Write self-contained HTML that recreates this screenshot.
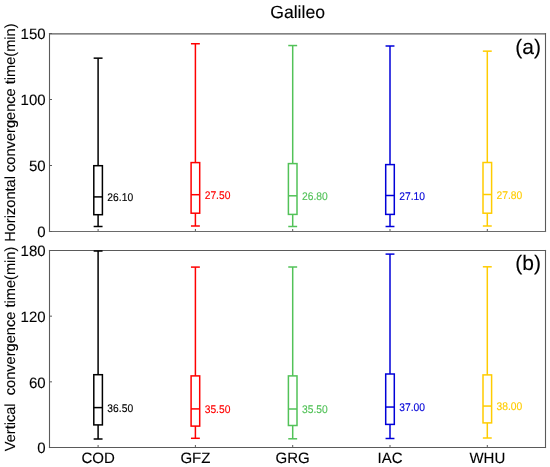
<!DOCTYPE html>
<html><head><meta charset="utf-8"><title>Galileo</title>
<style>html,body{margin:0;padding:0;background:#fff;width:550px;height:467px;overflow:hidden}svg{display:block}text{stroke:#000;stroke-width:0.12px;stroke-linejoin:round}</style>
</head><body>
<svg width="550" height="467" viewBox="0 0 550 467" font-family="'Liberation Sans', Arial, Helvetica, sans-serif" text-rendering="geometricPrecision">
<rect width="550" height="467" fill="#fff"/>
<text x="297.6" y="17.6" text-anchor="middle" font-size="17.6">Galileo</text>
<g stroke="#5a5a5a" stroke-width="1.1" fill="none">
<line x1="49.5" y1="33.15" x2="49.5" y2="232.05"/>
<line x1="545.5" y1="33.15" x2="545.5" y2="232.05"/>
<line x1="48.95" y1="231.5" x2="546.05" y2="231.5" stroke="#6a6a6a"/>
<line x1="48.95" y1="33.85" x2="546.05" y2="33.85" stroke-width="1.4"/>
</g>
<text x="45.6" y="237" text-anchor="end" font-size="15">0</text>
<line x1="49.5" y1="231.50" x2="52" y2="231.50" stroke="#5a5a5a" stroke-width="1"/>
<text x="45.6" y="171" text-anchor="end" font-size="15">50</text>
<line x1="49.5" y1="165.50" x2="52" y2="165.50" stroke="#5a5a5a" stroke-width="1"/>
<text x="45.6" y="105" text-anchor="end" font-size="15">100</text>
<line x1="49.5" y1="99.50" x2="52" y2="99.50" stroke="#5a5a5a" stroke-width="1"/>
<text x="45.6" y="39" text-anchor="end" font-size="15">150</text>
<line x1="49.5" y1="33.50" x2="52" y2="33.50" stroke="#5a5a5a" stroke-width="1"/>
<text x="541" y="53.7" text-anchor="end" font-size="21">(a)</text>
<text transform="translate(14.5,132.6) rotate(-90)" text-anchor="middle" font-size="14.62">Horizontal convergence time(min)</text>
<g stroke="#000000" stroke-width="1.5" fill="none">
<line x1="98.1" y1="58.15" x2="98.1" y2="165.7"/>
<line x1="98.1" y1="214.7" x2="98.1" y2="226.5"/>
<line x1="93.65" y1="58.15" x2="102.55" y2="58.15"/>
<line x1="93.65" y1="226.5" x2="102.55" y2="226.5"/>
<rect x="93.80" y="165.7" width="8.60" height="49.00"/>
<line x1="93.80" y1="196.9" x2="102.40" y2="196.9"/>
</g>
<text transform="translate(107.35,201.00) scale(1,1.08)" fill="#000000" style="stroke:#000000" font-size="10.3">26.10</text>
<g stroke="#ff0000" stroke-width="1.5" fill="none">
<line x1="195.4" y1="43.75" x2="195.4" y2="162.6"/>
<line x1="195.4" y1="213.2" x2="195.4" y2="226.0"/>
<line x1="190.95" y1="43.75" x2="199.85" y2="43.75"/>
<line x1="190.95" y1="226.0" x2="199.85" y2="226.0"/>
<rect x="191.10" y="162.6" width="8.60" height="50.60"/>
<line x1="191.10" y1="194.7" x2="199.70" y2="194.7"/>
</g>
<text transform="translate(204.65,199.00) scale(1,1.08)" fill="#ff0000" style="stroke:#ff0000" font-size="10.3">27.50</text>
<g stroke="#52c258" stroke-width="1.5" fill="none">
<line x1="292.7" y1="45.55" x2="292.7" y2="163.6"/>
<line x1="292.7" y1="214.4" x2="292.7" y2="226.5"/>
<line x1="288.25" y1="45.55" x2="297.15" y2="45.55"/>
<line x1="288.25" y1="226.5" x2="297.15" y2="226.5"/>
<rect x="288.40" y="163.6" width="8.60" height="50.80"/>
<line x1="288.40" y1="195.8" x2="297.00" y2="195.8"/>
</g>
<text transform="translate(301.95,200.00) scale(1,1.08)" fill="#52c258" style="stroke:#52c258" font-size="10.3">26.80</text>
<g stroke="#0000d8" stroke-width="1.5" fill="none">
<line x1="390.0" y1="46.0" x2="390.0" y2="164.6"/>
<line x1="390.0" y1="214.4" x2="390.0" y2="226.5"/>
<line x1="385.55" y1="46.0" x2="394.45" y2="46.0"/>
<line x1="385.55" y1="226.5" x2="394.45" y2="226.5"/>
<rect x="385.70" y="164.6" width="8.60" height="49.80"/>
<line x1="385.70" y1="195.5" x2="394.30" y2="195.5"/>
</g>
<text transform="translate(399.25,200.00) scale(1,1.08)" fill="#0000d8" style="stroke:#0000d8" font-size="10.3">27.10</text>
<g stroke="#ffcc00" stroke-width="1.5" fill="none">
<line x1="487.3" y1="51.15" x2="487.3" y2="162.5"/>
<line x1="487.3" y1="213.2" x2="487.3" y2="226.0"/>
<line x1="482.85" y1="51.15" x2="491.75" y2="51.15"/>
<line x1="482.85" y1="226.0" x2="491.75" y2="226.0"/>
<rect x="483.00" y="162.5" width="8.60" height="50.70"/>
<line x1="483.00" y1="194.5" x2="491.60" y2="194.5"/>
</g>
<text transform="translate(496.55,199.00) scale(1,1.08)" fill="#ffcc00" style="stroke:#ffcc00" font-size="10.3">27.80</text>
<g stroke="#5a5a5a" stroke-width="1.1" fill="none">
<line x1="49.5" y1="249.95" x2="49.5" y2="448.05"/>
<line x1="545.5" y1="249.95" x2="545.5" y2="448.05"/>
<line x1="48.95" y1="447.5" x2="546.05" y2="447.5" stroke="#5a5a5a"/>
<line x1="48.95" y1="250.5" x2="546.05" y2="250.5" stroke-width="1.1"/>
</g>
<text x="45.6" y="453" text-anchor="end" font-size="15">0</text>
<line x1="49.5" y1="447.50" x2="52" y2="447.50" stroke="#5a5a5a" stroke-width="1"/>
<text x="45.6" y="388" text-anchor="end" font-size="15">60</text>
<line x1="49.5" y1="381.83" x2="52" y2="381.83" stroke="#5a5a5a" stroke-width="1"/>
<text x="45.6" y="322" text-anchor="end" font-size="15">120</text>
<line x1="49.5" y1="316.17" x2="52" y2="316.17" stroke="#5a5a5a" stroke-width="1"/>
<text x="45.6" y="256" text-anchor="end" font-size="15">180</text>
<line x1="49.5" y1="250.50" x2="52" y2="250.50" stroke="#5a5a5a" stroke-width="1"/>
<text x="541" y="269.6" text-anchor="end" font-size="21">(b)</text>
<text transform="translate(14.7,349.0) rotate(-90)" text-anchor="middle" font-size="14.62" xml:space="preserve">Vertical  convergence time(min)</text>
<g stroke="#000000" stroke-width="1.5" fill="none">
<line x1="98.1" y1="251.0" x2="98.1" y2="374.7"/>
<line x1="98.1" y1="424.9" x2="98.1" y2="439.0"/>
<line x1="93.65" y1="251.0" x2="102.55" y2="251.0"/>
<line x1="93.65" y1="439.0" x2="102.55" y2="439.0"/>
<rect x="93.80" y="374.7" width="8.60" height="50.20"/>
<line x1="93.80" y1="407.6" x2="102.40" y2="407.6"/>
</g>
<text transform="translate(107.35,412.00) scale(1,1.08)" fill="#000000" style="stroke:#000000" font-size="10.3">36.50</text>
<g stroke="#ff0000" stroke-width="1.5" fill="none">
<line x1="195.4" y1="267.1" x2="195.4" y2="375.9"/>
<line x1="195.4" y1="426.1" x2="195.4" y2="438.3"/>
<line x1="190.95" y1="267.1" x2="199.85" y2="267.1"/>
<line x1="190.95" y1="438.3" x2="199.85" y2="438.3"/>
<rect x="191.10" y="375.9" width="8.60" height="50.20"/>
<line x1="191.10" y1="408.9" x2="199.70" y2="408.9"/>
</g>
<text transform="translate(204.65,413.00) scale(1,1.08)" fill="#ff0000" style="stroke:#ff0000" font-size="10.3">35.50</text>
<g stroke="#52c258" stroke-width="1.5" fill="none">
<line x1="292.7" y1="267.0" x2="292.7" y2="375.9"/>
<line x1="292.7" y1="425.5" x2="292.7" y2="438.8"/>
<line x1="288.25" y1="267.0" x2="297.15" y2="267.0"/>
<line x1="288.25" y1="438.8" x2="297.15" y2="438.8"/>
<rect x="288.40" y="375.9" width="8.60" height="49.60"/>
<line x1="288.40" y1="409.0" x2="297.00" y2="409.0"/>
</g>
<text transform="translate(301.95,413.00) scale(1,1.08)" fill="#52c258" style="stroke:#52c258" font-size="10.3">35.50</text>
<g stroke="#0000d8" stroke-width="1.5" fill="none">
<line x1="390.0" y1="254.1" x2="390.0" y2="374.0"/>
<line x1="390.0" y1="424.4" x2="390.0" y2="438.5"/>
<line x1="385.55" y1="254.1" x2="394.45" y2="254.1"/>
<line x1="385.55" y1="438.5" x2="394.45" y2="438.5"/>
<rect x="385.70" y="374.0" width="8.60" height="50.40"/>
<line x1="385.70" y1="407.05" x2="394.30" y2="407.05"/>
</g>
<text transform="translate(399.25,411.00) scale(1,1.08)" fill="#0000d8" style="stroke:#0000d8" font-size="10.3">37.00</text>
<g stroke="#ffcc00" stroke-width="1.5" fill="none">
<line x1="487.3" y1="266.8" x2="487.3" y2="374.9"/>
<line x1="487.3" y1="422.9" x2="487.3" y2="438.0"/>
<line x1="482.85" y1="266.8" x2="491.75" y2="266.8"/>
<line x1="482.85" y1="438.0" x2="491.75" y2="438.0"/>
<rect x="483.00" y="374.9" width="8.60" height="48.00"/>
<line x1="483.00" y1="406.05" x2="491.60" y2="406.05"/>
</g>
<text transform="translate(496.55,410.00) scale(1,1.08)" fill="#ffcc00" style="stroke:#ffcc00" font-size="10.3">38.00</text>
<line x1="98.1" y1="447" x2="98.1" y2="445" stroke="#5a5a5a" stroke-width="1"/>
<line x1="98.1" y1="231" x2="98.1" y2="229" stroke="#5a5a5a" stroke-width="1"/>
<text transform="translate(98.1,462.7) scale(1,1.0)" text-anchor="middle" font-size="15">COD</text>
<line x1="195.4" y1="447" x2="195.4" y2="445" stroke="#5a5a5a" stroke-width="1"/>
<line x1="195.4" y1="231" x2="195.4" y2="229" stroke="#5a5a5a" stroke-width="1"/>
<text transform="translate(195.4,462.7) scale(1,1.0)" text-anchor="middle" font-size="15">GFZ</text>
<line x1="292.7" y1="447" x2="292.7" y2="445" stroke="#5a5a5a" stroke-width="1"/>
<line x1="292.7" y1="231" x2="292.7" y2="229" stroke="#5a5a5a" stroke-width="1"/>
<text transform="translate(292.7,462.7) scale(1,1.0)" text-anchor="middle" font-size="15">GRG</text>
<line x1="390.0" y1="447" x2="390.0" y2="445" stroke="#5a5a5a" stroke-width="1"/>
<line x1="390.0" y1="231" x2="390.0" y2="229" stroke="#5a5a5a" stroke-width="1"/>
<text transform="translate(390.0,462.7) scale(1,1.0)" text-anchor="middle" font-size="15">IAC</text>
<line x1="487.3" y1="447" x2="487.3" y2="445" stroke="#5a5a5a" stroke-width="1"/>
<line x1="487.3" y1="231" x2="487.3" y2="229" stroke="#5a5a5a" stroke-width="1"/>
<text transform="translate(487.3,462.7) scale(1,1.0)" text-anchor="middle" font-size="15">WHU</text>
</svg>
</body></html>
